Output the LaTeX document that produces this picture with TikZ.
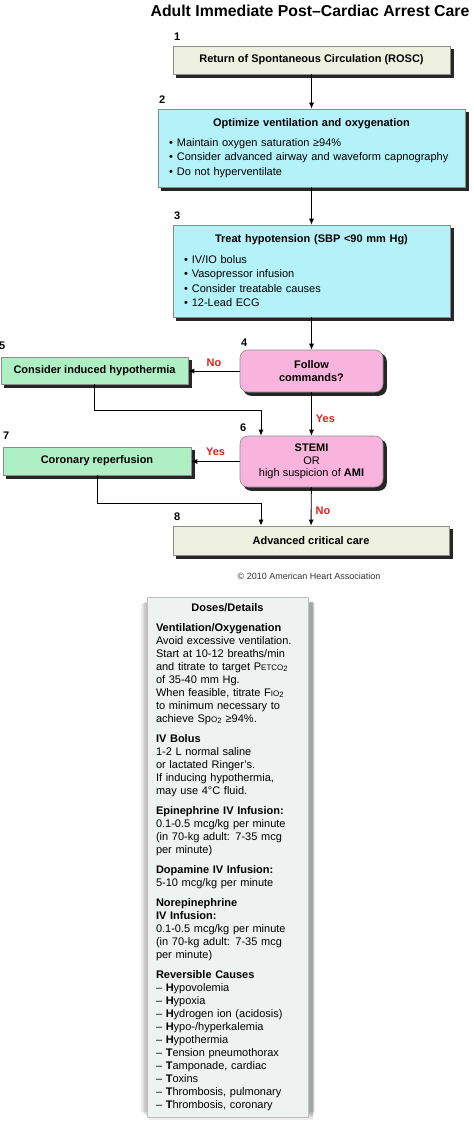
\documentclass[tikz,border=0pt]{standalone}
\usepackage{fontspec}
\setmainfont{Liberation Sans}
\usepackage{tikz}
\usetikzlibrary{arrows.meta, backgrounds}
\usetikzlibrary{positioning}
\definecolor{creambox}{HTML}{EEF0E0}
\definecolor{cyanbox}{HTML}{B4F2FA}
\definecolor{pinkbox}{HTML}{F8B4DC}
\definecolor{greenbox}{HTML}{AEF0C4}
\definecolor{dosesbox}{HTML}{EEF2F0}
\definecolor{answerred}{HTML}{E0201A}
\tikzstyle{flatshadow}=[fill=black!85, draw=none]
\newcommand{\blt}{\textbullet\hspace{4pt}}
\newcommand{\gasabbr}[1]{{\fontsize{8}{8}\selectfont #1}}

\begin{document}
\begin{tikzpicture}[x=1pt, y=-1pt, >={Latex[length=6pt,width=5pt]}, line width=0.9pt,
 plainbox/.style={rectangle, draw=black!45, line width=0.6pt, fill=creambox, font=\fontsize{11}{13}\selectfont\bfseries, align=center, inner sep=0pt},
 bulletbox/.style={rectangle, draw=black!45, line width=0.6pt, fill=cyanbox, font=\fontsize{11}{14.5}\selectfont, align=left, inner xsep=11pt, inner ysep=0pt},
 decisionbox/.style={rectangle, rounded corners=8pt, draw=black!45, line width=0.6pt, fill=pinkbox, font=\fontsize{11}{12.5}\selectfont, align=center, inner sep=0pt},
 actionbox/.style={rectangle, draw=black!45, line width=0.6pt, fill=greenbox, font=\fontsize{11}{13}\selectfont\bfseries, align=center, inner sep=0pt},
 numlbl/.style={font=\fontsize{11}{11}\selectfont\bfseries, inner sep=0pt},
 answerlbl/.style={font=\fontsize{11}{11}\selectfont\bfseries, text=answerred, inner sep=1pt}
 ]
 \useasboundingbox (0,0) rectangle (474,1128);

 %Nodes
 \node[font=\fontsize{15.8}{16}\selectfont\bfseries] (title) at (310,11) {Adult Immediate Post–Cardiac Arrest Care};

 \node[plainbox, minimum width=277pt, minimum height=28pt] (rosc) at (311.5,60) {Return of Spontaneous Circulation (ROSC)};
 \node[bulletbox, text width=285pt, minimum height=78pt] (ventil) at (311.5,148) {\makebox[\hsize]{\bfseries Optimize ventilation and oxygenation}\\[5pt]
   \blt Maintain oxygen saturation ≥94\%\\
   \blt Consider advanced airway and waveform capnography\\
   \blt Do not hyperventilate};
 \node[bulletbox, text width=255pt, minimum height=92pt] (hypot) at (311.5,271) {\makebox[\hsize]{\bfseries Treat hypotension (SBP <90 mm Hg)}\\[6pt]
   \blt IV/IO bolus\\
   \blt Vasopressor infusion\\
   \blt Consider treatable causes\\
   \blt 12-Lead ECG};
 \node[decisionbox, minimum width=143pt, minimum height=42pt] (follow) at (311.5,371) {\bfseries Follow\\\bfseries commands?};
 \node[actionbox, minimum width=187pt, minimum height=27pt] (hypoth) at (94.5,370.5) {Consider induced hypothermia};
 \node[decisionbox, minimum width=143pt, minimum height=51pt] (stemi) at (311.5,461.5) {\textbf{STEMI}\\OR\\high suspicion of \textbf{AMI}};
 \node[actionbox, minimum width=188pt, minimum height=28pt] (corona) at (97,461) {Coronary reperfusion};
 \node[plainbox, minimum width=276pt, minimum height=29pt] (advcare) at (311,540.5) {Advanced critical care};

 \node[numlbl, above right=5pt and 1pt of rosc.north west] (num1) {1};
 \node[numlbl, above right=5pt and 1pt of ventil.north west] (num2) {2};
 \node[numlbl, above right=5pt and 1pt of hypot.north west] (num3) {3};
 \node[numlbl, above right=3pt and 1pt of follow.north west] (num4) {4};
 \node[numlbl, above right=7pt and -2pt of hypoth.north west] (num5) {5};
 \node[numlbl, above right=7pt and 0pt of corona.north west] (num7) {7};
 \node[numlbl, above right=4pt and 0pt of stemi.north west] (num6) {6};
 \node[numlbl, above right=5pt and 1pt of advcare.north west] (num8) {8};

 \node[font=\fontsize{9}{10}\selectfont, text=black!80] (copyr) at (309,576) {© 2010 American Heart Association};

 \node[rectangle, draw=black!25, line width=0.5pt, fill=dosesbox, font=\fontsize{11}{13}\selectfont, align=left, text width=143pt, inner xsep=9pt, inner ysep=0pt, minimum height=520pt] (doses) at (227.5,857) {\makebox[\hsize]{\bfseries Doses/Details}\\[7pt]
   \textbf{Ventilation/Oxygenation}\\
   Avoid excessive ventilation.\\
   Start at 10-12 breaths/min\\
   and titrate to target P\gasabbr{ETCO}\textsubscript{2}\\
   of 35-40 mm Hg.\\
   When feasible, titrate F\gasabbr{IO}\textsubscript{2}\\
   to minimum necessary to\\
   achieve Sp\gasabbr{O}\textsubscript{2} ≥94\%.\\[7pt]
   \textbf{IV Bolus}\\
   1-2 L normal saline\\
   or lactated Ringer's.\\
   If inducing hypothermia,\\
   may use 4°C fluid.\\[7pt]
   \textbf{Epinephrine IV Infusion:}\\
   0.1-0.5 mcg/kg per minute\\
   (in 70-kg adult: 7-35 mcg\\
   per minute)\\[7pt]
   \textbf{Dopamine IV Infusion:}\\
   5-10 mcg/kg per minute\\[7pt]
   \textbf{Norepinephrine}\\
   \textbf{IV Infusion:}\\
   0.1-0.5 mcg/kg per minute\\
   (in 70-kg adult: 7-35 mcg\\
   per minute)\\[7pt]
   \textbf{Reversible Causes}\\
   – \textbf{H}ypovolemia\\
   – \textbf{H}ypoxia\\
   – \textbf{H}ydrogen ion (acidosis)\\
   – \textbf{H}ypo-/hyperkalemia\\
   – \textbf{H}ypothermia\\
   – \textbf{T}ension pneumothorax\\
   – \textbf{T}amponade, cardiac\\
   – \textbf{T}oxins\\
   – \textbf{T}hrombosis, pulmonary\\
   – \textbf{T}hrombosis, coronary};

 \coordinate (j5) at (261,410);
 \coordinate (j7) at (261,503);

 %Shadows
 \begin{scope}[on background layer]
  \foreach \b in {rosc, ventil, hypot, hypoth, corona, advcare}
   \fill[flatshadow] ([shift={(3.5pt,-3.5pt)}]\b.south west) rectangle ([shift={(3.5pt,-3.5pt)}]\b.north east);
  \foreach \b in {follow, stemi}
   \fill[flatshadow, rounded corners=8pt] ([shift={(3.5pt,-3.5pt)}]\b.south west) rectangle ([shift={(3.5pt,-3.5pt)}]\b.north east);
  \foreach \s in {1,...,6}
   \fill[black, opacity=0.07] ([shift={(4pt-\s*0.6pt,-4pt+\s*0.6pt)}]doses.south west) ++(-\s pt,\s pt) rectangle ([shift={(4pt+\s*0.4pt,-4pt-\s*0.4pt)}]doses.north east) ++(\s pt,-\s pt);
 \end{scope}

 %Lines
 \draw[->] (rosc) -- (ventil);
 \draw[->] (ventil) -- (hypot);
 \draw[->] (hypot) -- (follow);
 \draw[->] (follow.west) -- node[answerlbl, above=3pt] {No} (follow.west -| hypoth.east);
 \draw[->] (follow) -- node[answerlbl, right=3pt, pos=.6] {Yes} (stemi);
 \draw[->] (hypoth.south) |- (j5) -- (j5 |- stemi.north);
 \draw[->] (stemi.west) -- node[answerlbl, above=4pt] {Yes} (stemi.west -| corona.east);
 \draw[->] (corona.south) |- (j7) -- (j7 |- advcare.north);
 \draw[->] (stemi) -- node[answerlbl, right=3pt, pos=.6] {No} (advcare);
\end{tikzpicture}
\end{document}
